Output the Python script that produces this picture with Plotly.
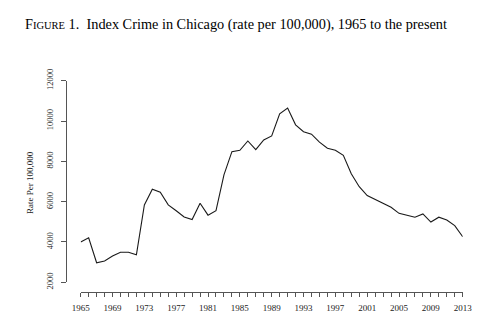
import plotly.graph_objects as go

years = list(range(1965, 2014))
rates = [4000, 4210, 2970, 3060, 3300, 3490, 3490, 3360, 5840, 6620,
         6470, 5840, 5550, 5240, 5110, 5920, 5330, 5550, 7330, 8480,
         8550, 9010, 8580, 9060, 9260, 10360, 10640, 9810, 9470, 9350,
         8950, 8650, 8550, 8300, 7380, 6740, 6300, 6120, 5920, 5720,
         5420, 5330, 5230, 5390, 4990, 5230, 5090, 4810, 4260]
x_ticks = list(range(1965, 2014, 4))
y_ticks = [2000, 4000, 6000, 8000, 10000, 12000]

W, H = 497, 334
x0, x1 = 80.7, 462.7
ytop, ybot = 80.7, 282.3
yaxis_x = 65.7
xaxis_y = 291.7

serif = "Liberation Serif"
axcol = "#555555"

fig = go.Figure()
fig.add_trace(go.Scatter(x=years, y=rates, mode="lines",
                         line=dict(color="#1a1a1a", width=1.1),
                         hoverinfo="skip", showlegend=False))

fig.update_layout(
    width=W, height=H, autosize=False,
    margin=dict(l=0, r=0, t=0, b=0, pad=0),
    paper_bgcolor="white", plot_bgcolor="white",
    xaxis=dict(
        domain=[x0 / W, x1 / W], range=[1965, 2013],
        anchor="free", position=(H - xaxis_y) / H, automargin=False,
        showline=True, linecolor=axcol, linewidth=1,
        showgrid=False, zeroline=False,
        tickmode="array", tickvals=x_ticks, ticktext=[str(v) for v in x_ticks],
        ticks="outside", ticklen=4, tickcolor=axcol, tickwidth=1,
        ticklabelstandoff=3,
        minor=dict(dtick=1, ticks="outside", ticklen=4, tickcolor=axcol, tickwidth=1, showgrid=False),
        tickfont=dict(family=serif, size=9, color="#222222"),
    ),
    yaxis=dict(
        domain=[(H - ybot) / H, (H - ytop) / H], range=[2000, 12000],
        anchor="free", position=yaxis_x / W, automargin=False,
        showline=True, linecolor=axcol, linewidth=1,
        showgrid=False, zeroline=False,
        tickmode="array", tickvals=y_ticks, ticktext=[str(v) for v in y_ticks],
        ticks="outside", ticklen=5, tickcolor=axcol, tickwidth=1,
        tickangle=-90, ticklabelstandoff=4,
        tickfont=dict(family=serif, size=8.5, color="#222222"),
    ),
    annotations=[
        dict(text="F<span style='font-size:10.5px'>IGURE</span> 1.&nbsp;&nbsp;Index Crime in Chicago (rate per 100,000), 1965 to the present",
             xref="paper", yref="paper", x=23 / W, y=(H - 24) / H,
             xanchor="left", yanchor="middle", showarrow=False,
             font=dict(family=serif, size=14.3, color="#000000")),
        dict(text="Rate Per 100,000", textangle=-90,
             xref="paper", yref="paper", x=30 / W, y=(H - 183) / H,
             xanchor="center", yanchor="middle", showarrow=False,
             font=dict(family=serif, size=9, color="#222222")),
    ],
)

fig.write_html("out.html")
